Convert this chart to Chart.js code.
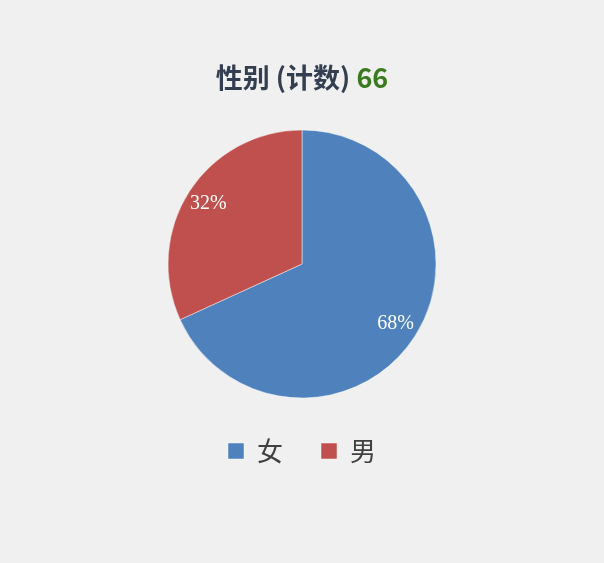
<!DOCTYPE html>
<html>
<head>
<meta charset="utf-8">
<script src="https://cdn.jsdelivr.net/npm/chart.js@4.4.1/dist/chart.umd.min.js"></script>
<style>
  html, body { margin: 0; padding: 0; background: #f0f0f0; }
  #wrap { width: 604px; height: 563px; position: relative; }
</style>
</head>
<body>
<div id="wrap"><canvas id="chart-gender"></canvas></div>
<script>
const categories = ["女", "男"];
const counts = [45, 21];
const titleMain = "性别 (计数) ";
const titleTotal = "66";

const palette = {
  blue: "#4f81bd",
  red: "#c0504d",
  title: "#333f50",
  green: "#3a7a1e",
  text: "#404040",
};

// title in two colours, drawn by hand since Chart.js title is one colour
const twoToneTitle = {
  id: "twoToneTitle",
  afterDraw(chart) {
    const ctx = chart.ctx;
    ctx.save();
    ctx.font = 'bold 27px "Noto Sans CJK SC", sans-serif';
    ctx.textBaseline = "middle";
    const w1 = ctx.measureText(titleMain).width;
    const w2 = ctx.measureText(titleTotal).width;
    let x = chart.width / 2 - (w1 + w2) / 2;
    ctx.fillStyle = palette.title;
    ctx.fillText(titleMain, x, 78);
    ctx.fillStyle = palette.green;
    ctx.fillText(titleTotal, x + w1, 78);
    ctx.restore();
  },
};

// percent labels inside slices
const sliceLabels = {
  id: "sliceLabels",
  afterDatasetsDraw(chart) {
    const ctx = chart.ctx;
    const meta = chart.getDatasetMeta(0);
    const total = counts.reduce((a, b) => a + b, 0);
    ctx.save();
    ctx.font = '20px "Liberation Serif", serif';
    ctx.fillStyle = "#ffffff";
    ctx.textAlign = "center";
    ctx.textBaseline = "middle";
    meta.data.forEach((arc, i) => {
      const mid = (arc.startAngle + arc.endAngle) / 2;
      const r = arc.outerRadius * 0.83;
      const x = arc.x + Math.cos(mid) * r;
      const y = arc.y + Math.sin(mid) * r;
      ctx.fillText(Math.round((counts[i] / total) * 100) + "%", x, y);
    });
    ctx.restore();
  },
};

new Chart(document.getElementById("chart-gender"), {
  type: "pie",
  data: {
    labels: categories,
    datasets: [
      {
        data: counts,
        backgroundColor: [palette.blue, palette.red],
        borderColor: "rgba(255,255,255,0.45)",
        borderWidth: 1,
        radius: 134,
      },
    ],
  },
  options: {
    responsive: true,
    maintainAspectRatio: false,
    animation: false,
    layout: { padding: { top: 128, bottom: 89, left: 0, right: 0 } },
    plugins: {
      title: { display: false },
      tooltip: { enabled: false },
      legend: {
        position: "bottom",
        labels: {
          boxWidth: 16,
          boxHeight: 16,
          padding: 38,
          color: palette.text,
          font: { size: 26, family: '"Noto Sans CJK SC", sans-serif' },
        },
      },
    },
  },
  plugins: [twoToneTitle, sliceLabels],
});
</script>
</body>
</html>
